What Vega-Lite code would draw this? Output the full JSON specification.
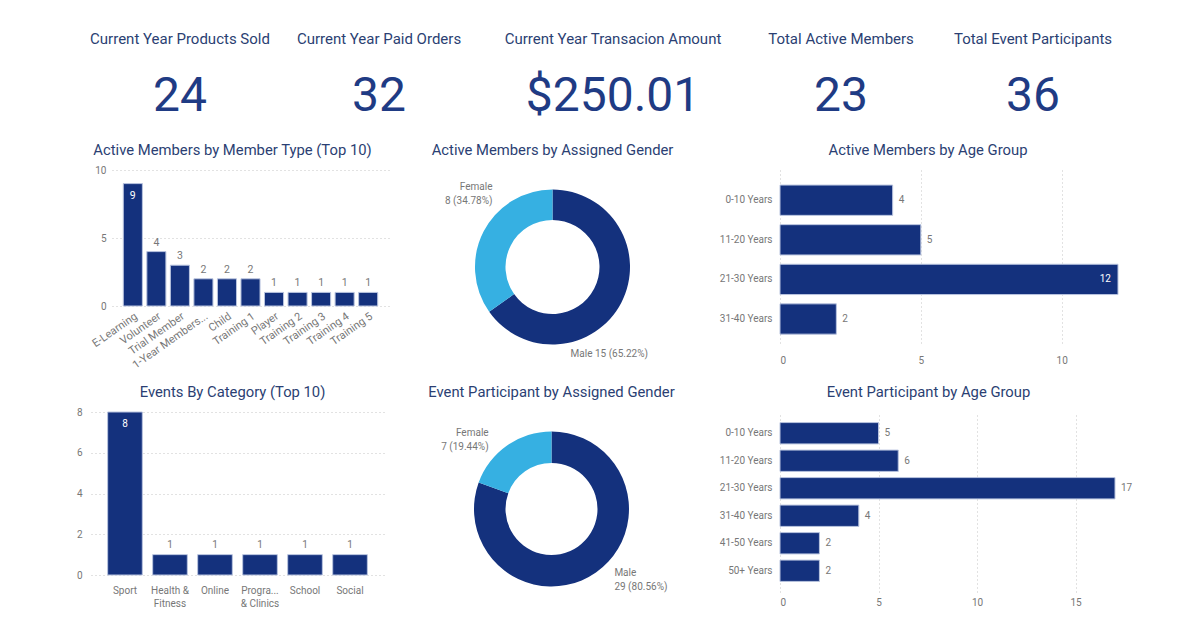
{
  "$schema": "https://vega.github.io/schema/vega-lite/v6.json",
  "background": "white",
  "padding": {"left": 0, "top": 32, "right": 10, "bottom": 10},
  "config": {
    "view": {"stroke": null},
    "font": "Roboto",
    "title": {"font": "Roboto", "fontSize": 14.8, "fontWeight": "normal", "color": "#2b3f73", "anchor": "middle", "frame": "group"},
    "axis": {"labelFont": "Roboto", "labelFontSize": 10, "labelColor": "#777777", "domain": false, "ticks": false, "gridColor": "#c4c4c4", "gridDash": [1, 3], "gridWidth": 1},
    "text": {"font": "Roboto"}
  },
  "datasets": {
    "memberType": [
      {"type": "E-Learning", "members": 9},
      {"type": "Volunteer", "members": 4},
      {"type": "Trial Member", "members": 3},
      {"type": "1-Year Members...", "members": 2},
      {"type": "Child", "members": 2},
      {"type": "Training 1", "members": 2},
      {"type": "Player", "members": 1},
      {"type": "Training 2", "members": 1},
      {"type": "Training 3", "members": 1},
      {"type": "Training 4", "members": 1},
      {"type": "Training 5", "members": 1}
    ],
    "memberGender": [
      {"gender": "Male", "count": 15},
      {"gender": "Female", "count": 8}
    ],
    "memberAge": [
      {"age": "0-10 Years", "count": 4},
      {"age": "11-20 Years", "count": 5},
      {"age": "21-30 Years", "count": 12},
      {"age": "31-40 Years", "count": 2}
    ],
    "eventCategory": [
      {"category": "Sport", "events": 8},
      {"category": "Health & Fitness", "events": 1},
      {"category": "Online", "events": 1},
      {"category": "Programs & Clinics", "events": 1},
      {"category": "School", "events": 1},
      {"category": "Social", "events": 1}
    ],
    "participantGender": [
      {"gender": "Male", "count": 29},
      {"gender": "Female", "count": 7}
    ],
    "participantAge": [
      {"age": "0-10 Years", "count": 5},
      {"age": "11-20 Years", "count": 6},
      {"age": "21-30 Years", "count": 17},
      {"age": "31-40 Years", "count": 4},
      {"age": "41-50 Years", "count": 2},
      {"age": "50+ Years", "count": 2}
    ]
  },
  "spacing": 18,
  "vconcat": [
    {
      "hconcat": [
        {"width": 80, "height": 1, "data": {"values": []}, "mark": "text"},
        {
          "width": 200, "height": 60,
          "title": {"text": "Current Year Products Sold", "fontSize": 15, "offset": 18},
          "data": {"values": [{"value": 24}]},
          "mark": {"type": "text", "fontSize": 48, "color": "#1f3b84", "baseline": "middle", "dy": 2},
          "encoding": {"text": {"field": "value", "type": "quantitative", "format": "d"}}
        },
        {
          "width": 198, "height": 60,
          "title": {"text": "Current Year Paid Orders", "fontSize": 15, "offset": 18},
          "data": {"values": [{"value": 32}]},
          "mark": {"type": "text", "fontSize": 48, "color": "#1f3b84", "baseline": "middle", "dy": 2},
          "encoding": {"text": {"field": "value", "type": "quantitative", "format": "d"}}
        },
        {
          "width": 270, "height": 60,
          "title": {"text": "Current Year Transacion Amount", "fontSize": 15, "offset": 18},
          "data": {"values": [{"value": 250.01}]},
          "mark": {"type": "text", "fontSize": 48, "color": "#1f3b84", "baseline": "middle", "dy": 2},
          "encoding": {"text": {"field": "value", "type": "quantitative", "format": "$,.2f"}}
        },
        {
          "width": 186, "height": 60,
          "title": {"text": "Total Active Members", "fontSize": 15, "offset": 18},
          "data": {"values": [{"value": 23}]},
          "mark": {"type": "text", "fontSize": 48, "color": "#1f3b84", "baseline": "middle", "dy": 2},
          "encoding": {"text": {"field": "value", "type": "quantitative", "format": "d"}}
        },
        {
          "width": 198, "height": 60,
          "title": {"text": "Total Event Participants", "fontSize": 15, "offset": 18},
          "data": {"values": [{"value": 36}]},
          "mark": {"type": "text", "fontSize": 48, "color": "#1f3b84", "baseline": "middle", "dy": 2},
          "encoding": {"text": {"field": "value", "type": "quantitative", "format": "d"}}
        }
      ],
      "spacing": 0,
      "bounds": "flush"
    },
    {
      "spacing": 14,
      "vconcat": [
        {
          "hconcat": [
            {"width": 112, "height": 1, "data": {"values": []}, "mark": "text"},
            {
              "width": 277, "height": 136,
              "title": {"text": "Active Members by Member Type (Top 10)", "dx": -18, "offset": 7},
              "data": {"name": "memberType"},
              "encoding": {
                "x": {"field": "type", "type": "nominal", "sort": null, "title": null,
                  "scale": {"paddingInner": 0.19, "paddingOuter": 0.48},
                  "axis": {"labelAngle": -35, "labelPadding": 4, "labelFontSize": 11}},
                "y": {"field": "members", "type": "quantitative", "title": null,
                  "scale": {"domain": [0, 10], "nice": false},
                  "axis": {"values": [0, 5, 10], "labelPadding": 6}}
              },
              "layer": [
                {"mark": {"type": "bar", "color": "#14317d", "stroke": "#b9c4df", "strokeWidth": 1}},
                {"transform": [{"filter": "datum.members < 9"}],
                  "mark": {"type": "text", "baseline": "bottom", "dy": -4, "fontSize": 10.5, "color": "#777777"},
                  "encoding": {"text": {"field": "members", "type": "quantitative"}}},
                {"transform": [{"filter": "datum.members >= 9"}],
                  "mark": {"type": "text", "baseline": "top", "dy": 7, "fontSize": 10.5, "color": "white"},
                  "encoding": {"text": {"field": "members", "type": "quantitative"}}}
              ]
            },
            {
              "width": 327, "height": 194,
              "title": {"text": "Active Members by Assigned Gender", "offset": 12},
              "data": {"name": "memberGender"},
              "transform": [
                {"joinaggregate": [{"op": "sum", "field": "count", "as": "total"}]},
                {"calculate": "datum.gender == 'Male' ? datum.gender + ' ' + datum.count + ' (' + format(datum.count / datum.total, '.2%') + ')' : datum.gender + '\\n' + datum.count + ' (' + format(datum.count / datum.total, '.2%') + ')'", "as": "label"}
              ],
              "encoding": {
                "theta": {"field": "count", "type": "quantitative", "stack": true},
                "order": {"field": "gender", "sort": "descending"},
                "color": {"field": "gender", "type": "nominal", "legend": null,
                  "scale": {"domain": ["Male", "Female"], "range": ["#14317d", "#36b0e2"]}}
              },
              "layer": [
                {"mark": {"type": "arc", "outerRadius": 77.5, "innerRadius": 47}},
                {"mark": {"type": "text", "radius": 80, "align": "right", "baseline": "middle", "dx": 11, "dy": -43, "fontSize": 10, "lineBreak": "\n", "lineHeight": 14},
                  "encoding": {"color": {"value": "#777777"},
                    "text": {"condition": {"test": "datum.gender == 'Female'", "field": "label"}, "value": ""}}},
                {"mark": {"type": "text", "radius": 80, "align": "left", "baseline": "middle", "dx": -53, "dy": 50, "fontSize": 10, "lineBreak": "\n", "lineHeight": 14},
                  "encoding": {"color": {"value": "#777777"},
                    "text": {"condition": {"test": "datum.gender == 'Male'", "field": "label"}, "value": ""}}}
              ]
            },
            {"width": 64, "height": 1, "data": {"values": []}, "mark": "text"},
            {
              "width": 338, "height": 173,
              "title": {"text": "Active Members by Age Group", "dx": -21, "offset": 12},
              "data": {"name": "memberAge"},
              "encoding": {
                "y": {"field": "age", "type": "nominal", "sort": null, "title": null,
                  "scale": {"paddingInner": 0.235, "paddingOuter": 0.302, "align": 0.63},
                  "axis": {"labelPadding": 8}},
                "x": {"field": "count", "type": "quantitative", "title": null,
                  "scale": {"domain": [0, 12], "nice": false},
                  "axis": {"values": [0, 5, 10], "labelPadding": 12}}
              },
              "layer": [
                {"mark": {"type": "bar", "color": "#14317d", "stroke": "#b9c4df", "strokeWidth": 1}},
                {"transform": [{"filter": "datum.count < 12"}],
                  "mark": {"type": "text", "align": "left", "dx": 6, "fontSize": 10, "color": "#777777"},
                  "encoding": {"text": {"field": "count", "type": "quantitative"}}},
                {"transform": [{"filter": "datum.count >= 12"}],
                  "mark": {"type": "text", "align": "right", "dx": -7, "fontSize": 10, "color": "white"},
                  "encoding": {"text": {"field": "count", "type": "quantitative"}}}
              ]
            }
          ],
          "spacing": 0,
          "bounds": "flush"
        },
        {
          "hconcat": [
            {"width": 91, "height": 1, "data": {"values": []}, "mark": "text"},
            {
              "width": 293, "height": 163,
              "title": {"text": "Events By Category (Top 10)", "dx": -5, "offset": 7},
              "data": {"name": "eventCategory"},
              "encoding": {
                "x": {"field": "category", "type": "nominal", "sort": null, "title": null,
                  "scale": {"paddingInner": 0.23, "paddingOuter": 0.37},
                  "axis": {"labelAngle": 0, "labelPadding": 10, "labelLineHeight": 13,
                    "labelExpr": "datum.value == 'Health & Fitness' ? ['Health &', 'Fitness'] : datum.value == 'Programs & Clinics' ? ['Progra...', '& Clinics'] : datum.value"}},
                "y": {"field": "events", "type": "quantitative", "title": null,
                  "scale": {"domain": [0, 8], "nice": false},
                  "axis": {"values": [0, 2, 4, 6, 8], "labelPadding": 9}}
              },
              "layer": [
                {"mark": {"type": "bar", "color": "#14317d", "stroke": "#b9c4df", "strokeWidth": 1}},
                {"transform": [{"filter": "datum.events < 8"}],
                  "mark": {"type": "text", "baseline": "bottom", "dy": -5, "fontSize": 10, "color": "#777777"},
                  "encoding": {"text": {"field": "events", "type": "quantitative"}}},
                {"transform": [{"filter": "datum.events >= 8"}],
                  "mark": {"type": "text", "baseline": "top", "dy": 7, "fontSize": 10, "color": "white"},
                  "encoding": {"text": {"field": "events", "type": "quantitative"}}}
              ]
            },
            {
              "width": 335, "height": 194,
              "title": {"text": "Event Participant by Assigned Gender", "offset": 12},
              "data": {"name": "participantGender"},
              "transform": [
                {"joinaggregate": [{"op": "sum", "field": "count", "as": "total"}]},
                {"calculate": "datum.gender + '\\n' + datum.count + ' (' + format(datum.count / datum.total, '.2%') + ')'", "as": "label"}
              ],
              "encoding": {
                "theta": {"field": "count", "type": "quantitative", "stack": true},
                "order": {"field": "gender", "sort": "descending"},
                "color": {"field": "gender", "type": "nominal", "legend": null,
                  "scale": {"domain": ["Male", "Female"], "range": ["#14317d", "#36b0e2"]}}
              },
              "layer": [
                {"mark": {"type": "arc", "outerRadius": 77.5, "innerRadius": 46}},
                {"mark": {"type": "text", "radius": 80, "align": "right", "baseline": "middle", "dx": -17, "dy": -10, "fontSize": 10, "lineBreak": "\n", "lineHeight": 14},
                  "encoding": {"color": {"value": "#777777"},
                    "text": {"condition": {"test": "datum.gender == 'Female'", "field": "label"}, "value": ""}}},
                {"mark": {"type": "text", "radius": 80, "align": "left", "baseline": "middle", "dx": 17, "dy": -2, "fontSize": 10, "lineBreak": "\n", "lineHeight": 14},
                  "encoding": {"color": {"value": "#777777"},
                    "text": {"condition": {"test": "datum.gender == 'Male'", "field": "label"}, "value": ""}}}
              ]
            },
            {"width": 61, "height": 1, "data": {"values": []}, "mark": "text"},
            {
              "width": 335, "height": 180,
              "title": {"text": "Event Participant by Age Group", "dx": -19, "offset": 12},
              "data": {"name": "participantAge"},
              "encoding": {
                "y": {"field": "age", "type": "nominal", "sort": null, "title": null,
                  "scale": {"paddingInner": 0.225, "paddingOuter": 0.385},
                  "axis": {"labelPadding": 8}},
                "x": {"field": "count", "type": "quantitative", "title": null,
                  "scale": {"domain": [0, 17], "nice": false},
                  "axis": {"values": [0, 5, 10, 15], "labelPadding": 5}}
              },
              "layer": [
                {"mark": {"type": "bar", "color": "#14317d", "stroke": "#b9c4df", "strokeWidth": 1}},
                {"mark": {"type": "text", "align": "left", "dx": 6, "fontSize": 10, "color": "#777777"},
                  "encoding": {"text": {"field": "count", "type": "quantitative"}}}
              ]
            }
          ],
          "spacing": 0,
          "bounds": "flush"
        }
      ]
    }
  ]
}
